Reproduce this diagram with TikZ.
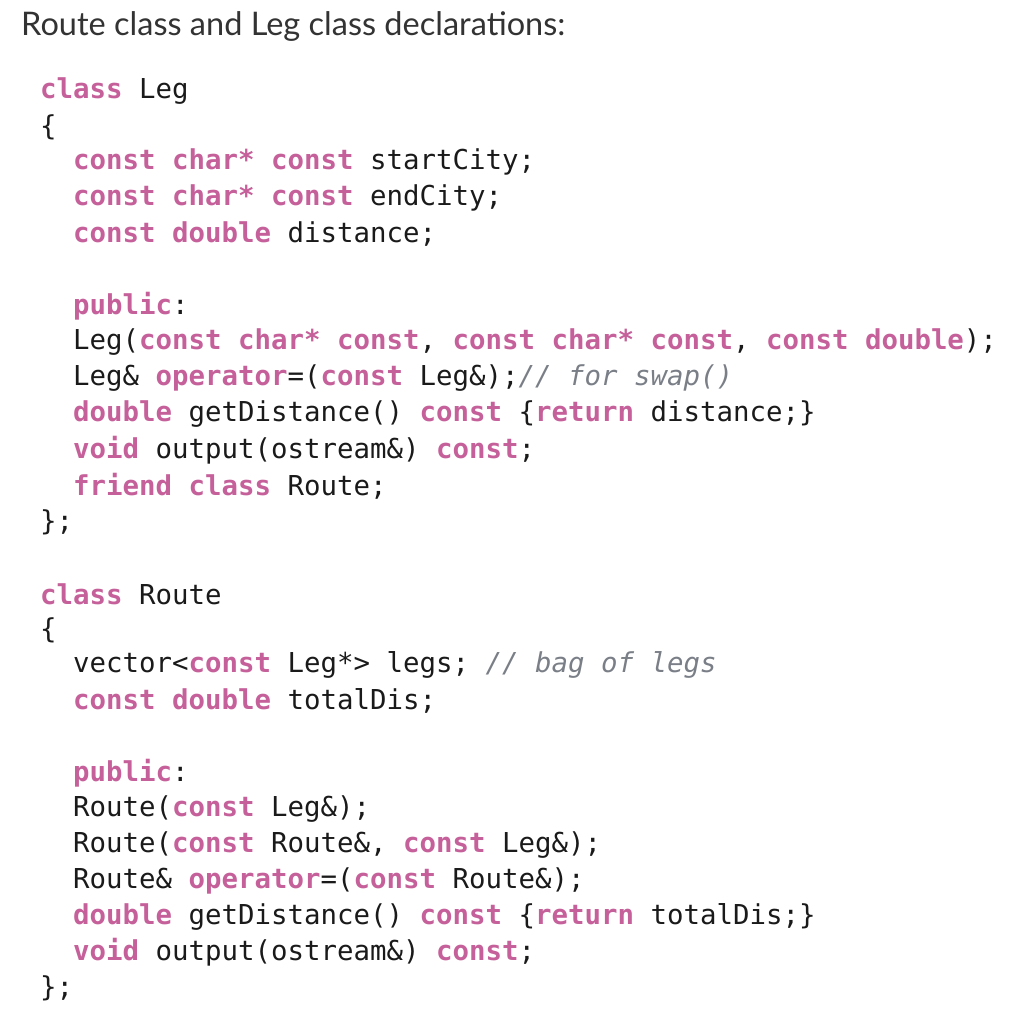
\documentclass[tikz,border=0pt]{standalone}
\usepackage{fontspec}
\setmainfont{Lato}
\setmonofont{DejaVu Sans Mono}
\definecolor{kw}{HTML}{C5609A}
\definecolor{cm}{HTML}{7A7F87}
\definecolor{tx}{HTML}{1A1A1A}
\newcommand{\K}[1]{\textcolor{kw}{\bfseries #1}}
\newcommand{\C}[1]{\textcolor{cm}{\itshape #1}}
\begin{document}
\begin{tikzpicture}[x=1pt,y=-1pt,
  cl/.style={anchor=west,inner sep=0pt,text=tx,font=\ttfamily\fontsize{27.4}{30}\selectfont}]
\useasboundingbox (0,0) rectangle (1024,1016);
\node[anchor=west,inner sep=0pt,text=black!80,font=\fontsize{32.5}{36}\selectfont] (title) at (21,27) {Route class and Leg class declarations:};
\node[cl] (l1) at (40,91) {\K{class} Leg};
\node[cl] (l2) at (40,127) {\{};
\node[cl] (l3) at (73,162) {\K{const} \K{char*} \K{const} startCity;};
\node[cl] (l4) at (73,198) {\K{const} \K{char*} \K{const} endCity;};
\node[cl] (l5) at (73,234) {\K{const} \K{double} distance;};
\node[cl] (l6) at (73,306) {\K{public}:};
\node[cl] (l7) at (73,342) {Leg(\K{const} \K{char*} \K{const}, \K{const} \K{char*} \K{const}, \K{const} \K{double});};
\node[cl] (l8) at (73,378) {Leg\& \K{operator}=(\K{const} Leg\&);\C{// for swap()}};
\node[cl] (l9) at (73,414) {\K{double} getDistance() \K{const} \{\K{return} distance;\}};
\node[cl] (l10) at (73,450) {\K{void} output(ostream\&) \K{const};};
\node[cl] (l11) at (73,486) {\K{friend} \K{class} Route;};
\node[cl] (l12) at (40,522) {\};};
\node[cl] (r1) at (40,594) {\K{class} Route};
\node[cl] (r2) at (40,630) {\{};
\node[cl] (r3) at (73,665) {vector<\K{const} Leg*> legs; \C{// bag of legs}};
\node[cl] (r4) at (73,701) {\K{const} \K{double} totalDis;};
\node[cl] (r5) at (73,773) {\K{public}:};
\node[cl] (r6) at (73,809) {Route(\K{const} Leg\&);};
\node[cl] (r7) at (73,845) {Route(\K{const} Route\&, \K{const} Leg\&);};
\node[cl] (r8) at (73,881) {Route\& \K{operator}=(\K{const} Route\&);};
\node[cl] (r9) at (73,917) {\K{double} getDistance() \K{const} \{\K{return} totalDis;\}};
\node[cl] (r10) at (73,952) {\K{void} output(ostream\&) \K{const};};
\node[cl] (r11) at (40,988) {\};};
\end{tikzpicture}
\end{document}
